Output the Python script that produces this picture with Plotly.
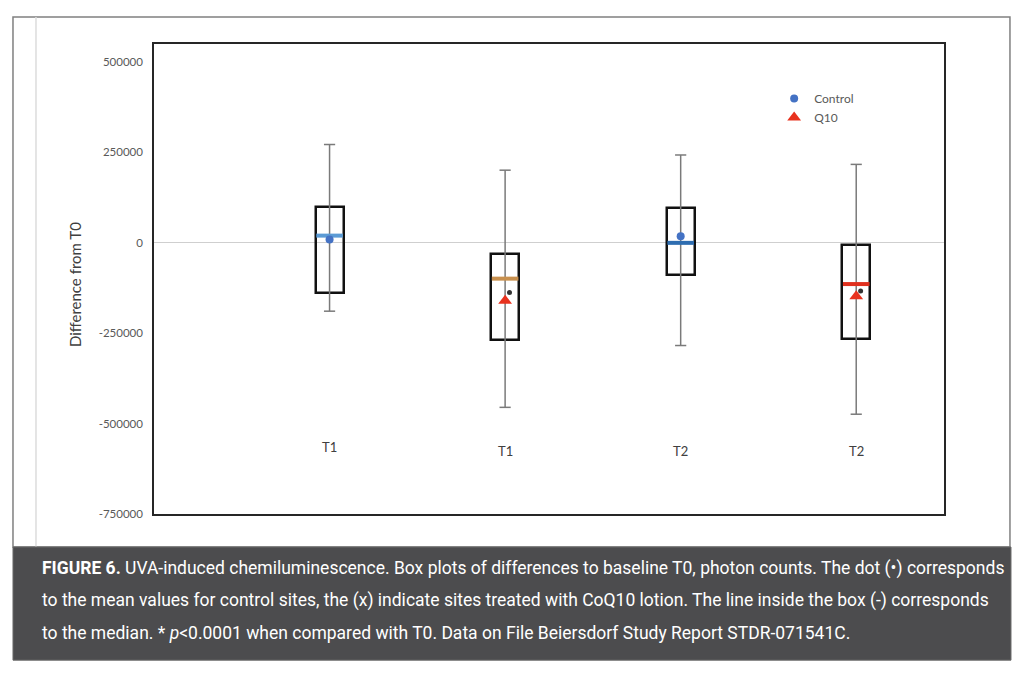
import plotly.graph_objects as go

# ---- data ----
groups = ["Control", "Q10", "Control", "Q10"]
labels = ["T1", "T1", "T2", "T2"]
whisker_low = [-189000, -455000, -284000, -474000]
whisker_high = [272000, 201000, 243000, 217000]
q1 = [-138000, -270000, -88000, -267000]
q3 = [99000, -30000, 97000, -5000]
median = [20000, -99000, 0, -114000]
mean = [9000, -160000, 18000, -148000]
signif = [None, -137000, None, -133000]
label_y = [-565000, -575000, -575000, -575000]
yticks = [-750000, -500000, -250000, 0, 250000, 500000]

median_colors = ["#5B9BD5", "#C8904E", "#2E6DB0", "#E0301E"]
pos = [1, 2, 3, 4]

fig = go.Figure()

# whiskers
wx, wy = [], []
for p, lo, hi in zip(pos, whisker_low, whisker_high):
    wx += [p, p, None]
    wy += [lo, hi, None]
fig.add_trace(go.Scatter(x=wx, y=wy, mode="lines", line=dict(color="#7a7a7a", width=1.5),
                         showlegend=False, hoverinfo="skip"))
fig.add_trace(go.Scatter(x=pos + pos, y=whisker_low + whisker_high, mode="markers",
                         marker=dict(symbol="line-ew", size=8, line=dict(color="#7a7a7a", width=1.5)),
                         showlegend=False, hoverinfo="skip"))

# boxes
fig.add_trace(go.Bar(x=pos, base=q1, y=[b - a for a, b in zip(q1, q3)], width=0.16,
                     marker=dict(color="rgba(0,0,0,0)", line=dict(color="#111111", width=2.5)),
                     showlegend=False, hoverinfo="skip"))

# medians
fig.add_trace(go.Scatter(x=pos, y=median, mode="markers",
                         marker=dict(symbol="line-ew", size=19,
                                     line=dict(color=median_colors, width=4)),
                         showlegend=False, hoverinfo="skip"))

# means
cx = [p for p, g in zip(pos, groups) if g == "Control"]
cy = [m for m, g in zip(mean, groups) if g == "Control"]
qx = [p for p, g in zip(pos, groups) if g == "Q10"]
qy = [m for m, g in zip(mean, groups) if g == "Q10"]
fig.add_trace(go.Scatter(x=cx, y=cy, mode="markers", name="Control",
                         marker=dict(symbol="circle", size=8, color="#4472C4")))
fig.add_trace(go.Scatter(x=qx, y=qy, mode="markers", name="Q10",
                         marker=dict(symbol="triangle-up", size=12, color="#E8321E")))

# significance dots
sx = [p + 0.025 for p, s in zip(pos, signif) if s is not None]
sy = [s for s in signif if s is not None]
fig.add_trace(go.Scatter(x=sx, y=sy, mode="markers",
                         marker=dict(symbol="circle", size=5, color="#333333"),
                         showlegend=False, hoverinfo="skip"))

# category labels
for p, lab, ly in zip(pos, labels, label_y):
    fig.add_annotation(x=p, y=ly, xref="x", yref="y", text=lab, showarrow=False,
                       font=dict(family="Lato", size=13, color="#404040"))

# y axis title
fig.add_annotation(x=-0.1, y=0.487, xref="paper", yref="paper", text="Difference from T0",
                   xanchor="center", textangle=-90, showarrow=False,
                   font=dict(family="Lato", size=15, color="#404040"))

# outer frame and caption
fig.add_shape(type="rect", xref="paper", yref="paper", x0=-0.1785, x1=1.0835, y0=-0.0702, y1=1.0574,
              line=dict(color="#808080", width=1.5), layer="below")
fig.add_shape(type="line", xref="paper", yref="paper", x0=-0.1494, x1=-0.1494, y0=-0.0702, y1=1.0574,
              line=dict(color="#dcdcdc", width=1.5), layer="below")
fig.add_shape(type="rect", xref="paper", yref="paper", x0=-0.1785, x1=1.0848, y0=-0.311, y1=-0.0702,
              fillcolor="#4c4c4e", line=dict(color="#6a6a6a", width=1), layer="below")

caption = [
    "<b>FIGURE 6.</b> UVA-induced chemiluminescence. Box plots of differences to baseline T0, photon counts. The dot (•) corresponds",
    "to the mean values for control sites, the (x) indicate sites treated with CoQ10 lotion. The line inside the box (-) corresponds",
    "to the median. * <i>p</i>&lt;0.0001 when compared with T0. Data on File Beiersdorf Study Report STDR-071541C.",
]
for i, line in enumerate(caption):
    fig.add_annotation(x=-0.1443, y=-0.117 - 0.068 * i, xref="paper", yref="paper", text=line,
                       xanchor="left", yanchor="middle", showarrow=False,
                       font=dict(family="Roboto", size=17.5, color="#ffffff"))

fig.update_layout(
    width=1024, height=677,
    margin=dict(l=154, r=80, t=44, b=163),
    paper_bgcolor="white", plot_bgcolor="white",
    bargap=0,
    legend=dict(x=0.785, y=0.915, xanchor="left", yanchor="top", bgcolor="rgba(0,0,0,0)",
                font=dict(family="Lato", size=12, color="#595959"), itemwidth=30),
    xaxis=dict(range=[0, 4.5], showgrid=False, zeroline=False, showticklabels=False, ticks="",
               showline=True, mirror=True, linecolor="#262626", linewidth=1.5),
    yaxis=dict(range=[-750000, 550000], tickvals=yticks, ticktext=[str(v) for v in yticks],
               showgrid=False, zeroline=True, zerolinecolor="#cfcfcf", zerolinewidth=1.2,
               showline=True, mirror=True, linecolor="#262626", linewidth=1.5,
               tickfont=dict(family="Lato", size=11.5, color="#595959"), ticks="", ticklabelstandoff=7),
)

fig.write_html("out.html")
